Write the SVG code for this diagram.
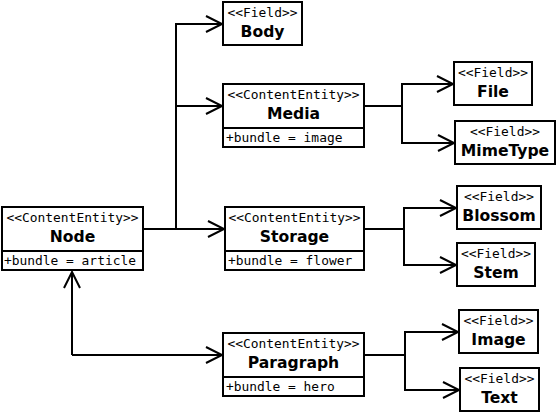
<svg xmlns="http://www.w3.org/2000/svg" width="557" height="413" viewBox="0 0 557 413">
<defs>
<style>
.box{fill:#fff;stroke:#000;stroke-width:2}
.sep{stroke:#000;stroke-width:2}
.st{font-family:"DejaVu Sans Mono",monospace;font-size:12.9px;text-anchor:middle;fill:#000}
.nm{font-family:"DejaVu Sans",sans-serif;font-weight:bold;font-size:15.6px;text-anchor:middle;fill:#000}
.at{font-family:"DejaVu Sans Mono",monospace;font-size:12.9px;fill:#000}
.ln{fill:none;stroke:#000;stroke-width:2}
</style>
<marker id="ah" markerUnits="userSpaceOnUse" markerWidth="20" markerHeight="20" viewBox="-17 -10 20 20" refX="0" refY="0" orient="auto">
<path d="M-16,-8 L0,0 L-16,8" fill="none" stroke="#000" stroke-width="2"/>
</marker>
</defs>
<g id="connectors">
<path class="ln" d="M143,229 H176 V24 H222" marker-end="url(#ah)"/>
<path class="ln" d="M176,106 H222" marker-end="url(#ah)"/>
<path class="ln" d="M176,229 H224" marker-end="url(#ah)"/>
<path class="ln" d="M72,355 V272" marker-end="url(#ah)"/>
<path class="ln" d="M72,355 H222" marker-end="url(#ah)"/>
<path class="ln" d="M364,106 H402 V84 H453" marker-end="url(#ah)"/>
<path class="ln" d="M402,106 V143 H454" marker-end="url(#ah)"/>
<path class="ln" d="M364,229 H404 V208 H456" marker-end="url(#ah)"/>
<path class="ln" d="M404,229 V265 H456" marker-end="url(#ah)"/>
<path class="ln" d="M364,355 H405 V332 H458" marker-end="url(#ah)"/>
<path class="ln" d="M405,355 V390 H459" marker-end="url(#ah)"/>
</g>
<g id="node-node">
<rect class="box" x="2" y="207" width="141" height="63"/>
<line class="sep" x1="2" y1="251" x2="143" y2="251"/>
<text class="st" x="72.5" y="222">&lt;&lt;ContentEntity&gt;&gt;</text>
<text class="nm" x="72.5" y="242">Node</text>
<text class="at" x="4" y="265">+bundle = article</text>
</g>
<g id="node-body">
<rect class="box" x="223" y="2" width="79" height="43"/>
<text class="st" x="262.5" y="17">&lt;&lt;Field&gt;&gt;</text>
<text class="nm" x="262.5" y="37">Body</text>
</g>
<g id="node-media">
<rect class="box" x="223" y="84" width="141" height="63"/>
<line class="sep" x1="223" y1="128" x2="364" y2="128"/>
<text class="st" x="293.5" y="99">&lt;&lt;ContentEntity&gt;&gt;</text>
<text class="nm" x="293.5" y="119">Media</text>
<text class="at" x="226" y="142">+bundle = image</text>
</g>
<g id="node-storage">
<rect class="box" x="225" y="207" width="139" height="63"/>
<line class="sep" x1="225" y1="251" x2="364" y2="251"/>
<text class="st" x="294.5" y="222">&lt;&lt;ContentEntity&gt;&gt;</text>
<text class="nm" x="294.5" y="242">Storage</text>
<text class="at" x="228" y="265">+bundle = flower</text>
</g>
<g id="node-paragraph">
<rect class="box" x="223" y="333" width="141" height="63"/>
<line class="sep" x1="223" y1="377" x2="364" y2="377"/>
<text class="st" x="293.5" y="348">&lt;&lt;ContentEntity&gt;&gt;</text>
<text class="nm" x="293.5" y="368">Paragraph</text>
<text class="at" x="226" y="391">+bundle = hero</text>
</g>
<g id="node-file">
<rect class="box" x="454" y="62" width="78" height="43"/>
<text class="st" x="493" y="77">&lt;&lt;Field&gt;&gt;</text>
<text class="nm" x="493" y="97">File</text>
</g>
<g id="node-mimetype">
<rect class="box" x="455" y="121" width="100" height="43"/>
<text class="st" x="505" y="136">&lt;&lt;Field&gt;&gt;</text>
<text class="nm" x="505" y="156">MimeType</text>
</g>
<g id="node-blossom">
<rect class="box" x="457" y="186" width="84" height="43"/>
<text class="st" x="499" y="201">&lt;&lt;Field&gt;&gt;</text>
<text class="nm" x="499" y="221">Blossom</text>
</g>
<g id="node-stem">
<rect class="box" x="457" y="243" width="78" height="43"/>
<text class="st" x="496" y="258">&lt;&lt;Field&gt;&gt;</text>
<text class="nm" x="496" y="278">Stem</text>
</g>
<g id="node-image">
<rect class="box" x="459" y="310" width="79" height="43"/>
<text class="st" x="498.5" y="325">&lt;&lt;Field&gt;&gt;</text>
<text class="nm" x="498.5" y="345">Image</text>
</g>
<g id="node-text">
<rect class="box" x="460" y="368" width="79" height="43"/>
<text class="st" x="499.5" y="383">&lt;&lt;Field&gt;&gt;</text>
<text class="nm" x="499.5" y="403">Text</text>
</g>
</svg>
